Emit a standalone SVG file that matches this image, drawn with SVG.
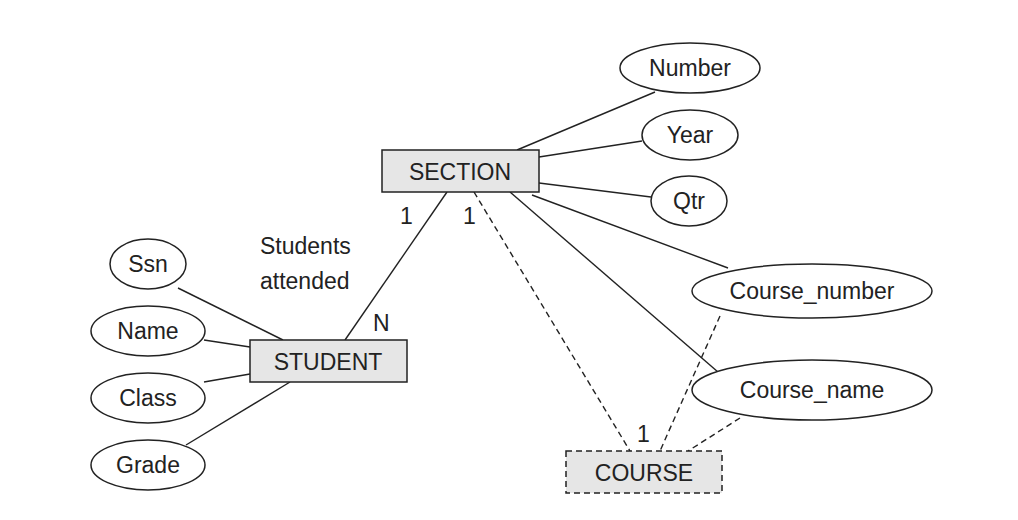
<svg xmlns="http://www.w3.org/2000/svg" width="1018" height="520" viewBox="0 0 1018 520">
<style>
text{font-family:"Liberation Sans",Arial,sans-serif;font-size:23px;fill:#222}
.e{fill:#fff;stroke:#222;stroke-width:1.5}
.r{fill:#e6e6e6;stroke:#222;stroke-width:1.5}
.d{stroke-dasharray:6,4}
line{stroke:#222;stroke-width:1.4}
.c{text-anchor:middle}
</style>
<rect width="1018" height="520" fill="#fff"/>
<g id="connectors">
<line x1="517" y1="150" x2="655" y2="92"/>
<line x1="539" y1="157" x2="642" y2="141"/>
<line x1="539" y1="183" x2="651" y2="197"/>
<line x1="532" y1="195" x2="728" y2="268"/>
<line x1="510" y1="192" x2="718" y2="372"/>
<line x1="447" y1="192" x2="345" y2="340"/>
<line class="d" x1="474" y1="192" x2="630" y2="451"/>
<line class="d" x1="720" y1="316" x2="660" y2="451"/>
<line class="d" x1="740" y1="418" x2="688" y2="451"/>
<line x1="178" y1="288" x2="283" y2="340"/>
<line x1="204" y1="340" x2="250" y2="347"/>
<line x1="204" y1="382" x2="250" y2="374"/>
<line x1="186" y1="445" x2="290" y2="382"/>
<text x="400" y="224">1</text>
<text x="463" y="224">1</text>
<text x="260" y="254">Students</text>
<text x="260" y="289">attended</text>
<text x="373" y="331">N</text>
<text x="637" y="442">1</text>
</g>
<g id="SECTION"><rect class="r" x="382" y="150" width="157" height="42"/><text class="c" x="460" y="180">SECTION</text></g>
<g id="STUDENT"><rect class="r" x="250" y="340" width="157" height="42"/><text class="c" x="328" y="370">STUDENT</text></g>
<g id="COURSE"><rect class="r d" x="566" y="451" width="156" height="42"/><text class="c" x="644" y="481">COURSE</text></g>
<g id="Number"><ellipse class="e" cx="690" cy="68" rx="70" ry="25"/><text class="c" x="690" y="76">Number</text></g>
<g id="Year"><ellipse class="e" cx="690" cy="135" rx="48" ry="25"/><text class="c" x="690" y="143">Year</text></g>
<g id="Qtr"><ellipse class="e" cx="689" cy="201" rx="38" ry="25"/><text class="c" x="689" y="209">Qtr</text></g>
<g id="Course_number"><ellipse class="e" cx="812" cy="291" rx="120" ry="27"/><text class="c" x="812" y="299">Course_number</text></g>
<g id="Course_name"><ellipse class="e" cx="812" cy="390" rx="120" ry="30"/><text class="c" x="812" y="398">Course_name</text></g>
<g id="Ssn"><ellipse class="e" cx="148" cy="264" rx="38" ry="25"/><text class="c" x="148" y="272">Ssn</text></g>
<g id="Name"><ellipse class="e" cx="148" cy="331" rx="57" ry="25"/><text class="c" x="148" y="339">Name</text></g>
<g id="Class"><ellipse class="e" cx="148" cy="398" rx="57" ry="25"/><text class="c" x="148" y="406">Class</text></g>
<g id="Grade"><ellipse class="e" cx="148" cy="465" rx="57" ry="25"/><text class="c" x="148" y="473">Grade</text></g>
</svg>
